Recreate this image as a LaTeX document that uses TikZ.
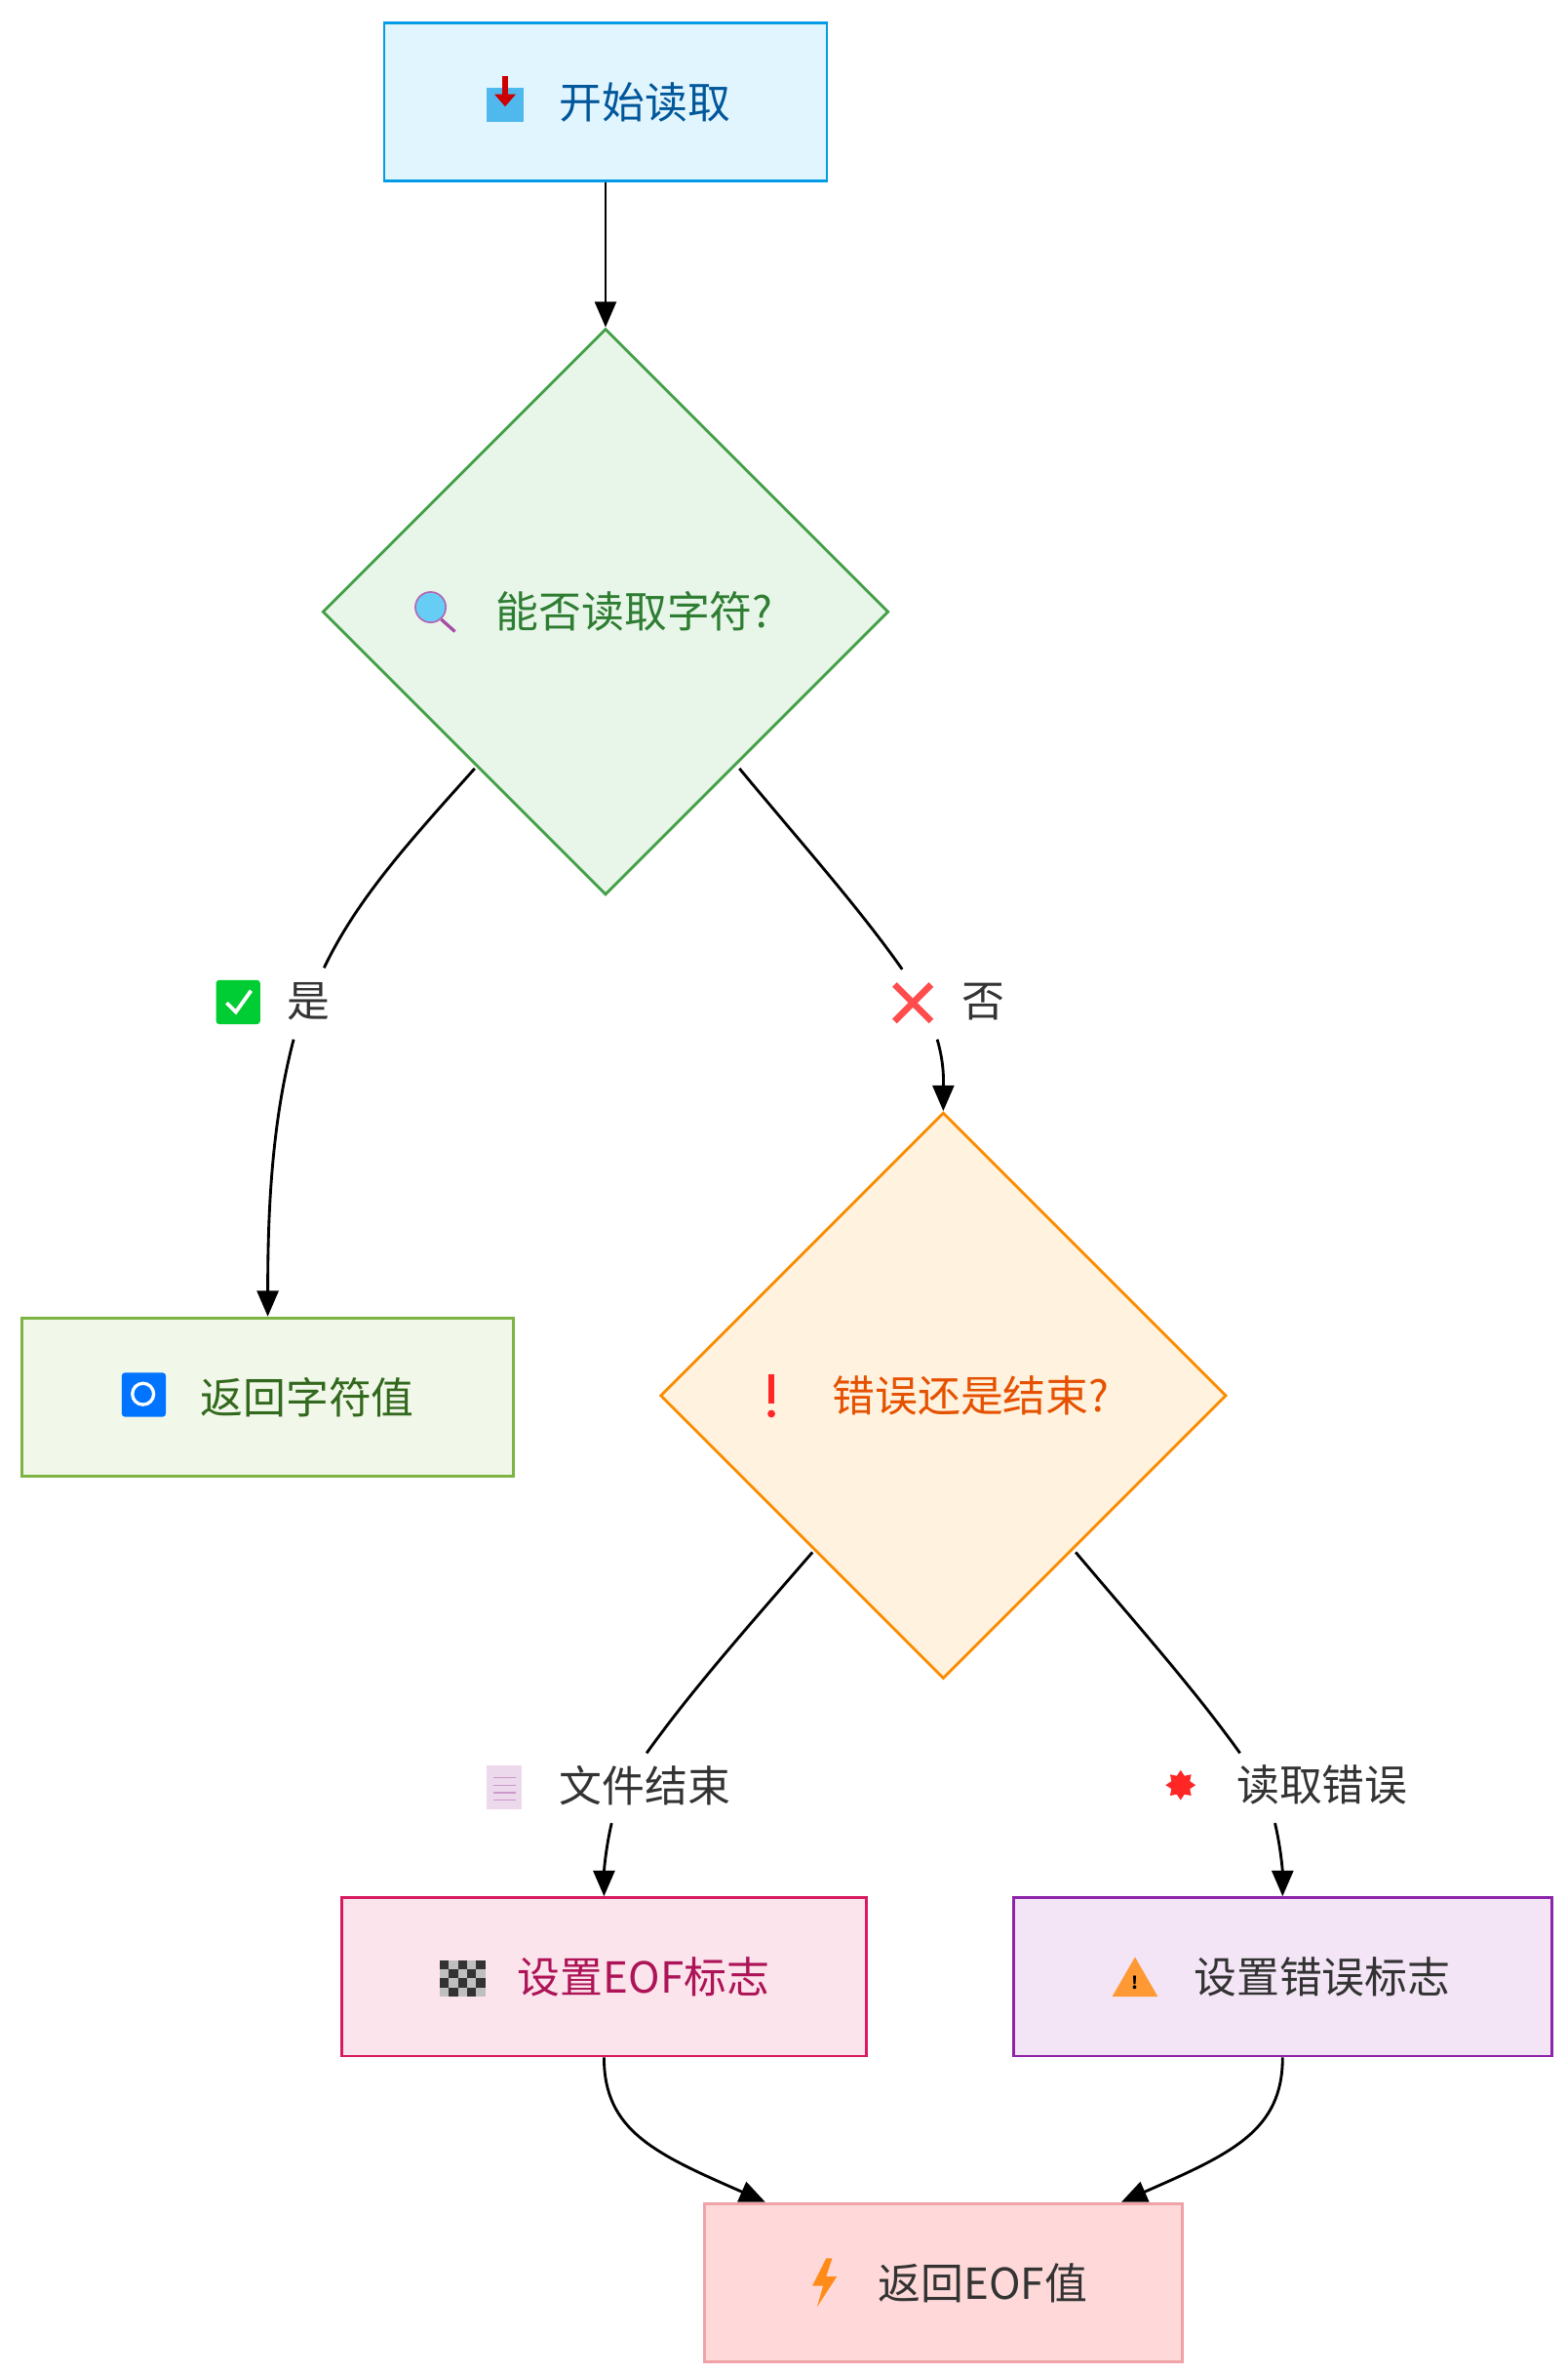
\documentclass[tikz,border=0pt]{standalone}
\usepackage{fontspec}
\setmainfont{Noto Sans CJK SC}
\usetikzlibrary{shapes.geometric,arrows.meta}
\definecolor{c1f}{HTML}{E1F5FE}\definecolor{c1d}{HTML}{039BE5}\definecolor{c1t}{HTML}{01579B}
\definecolor{c2f}{HTML}{E8F5E9}\definecolor{c2d}{HTML}{43A047}\definecolor{c2t}{HTML}{2E7D32}
\definecolor{c3f}{HTML}{F1F8E9}\definecolor{c3d}{HTML}{7CB342}\definecolor{c3t}{HTML}{33691E}
\definecolor{c4f}{HTML}{FFF3E0}\definecolor{c4d}{HTML}{FB8C00}\definecolor{c4t}{HTML}{E65100}
\definecolor{c5f}{HTML}{FCE4EC}\definecolor{c5d}{HTML}{D81B60}\definecolor{c5t}{HTML}{AD1457}
\definecolor{c6f}{HTML}{F3E5F5}\definecolor{c6d}{HTML}{8E24AA}\definecolor{c6t}{HTML}{333333}
\definecolor{c7f}{HTML}{FFD9D9}\definecolor{c7d}{HTML}{EFA3A8}\definecolor{c7t}{HTML}{333333}
\begin{document}
\begin{tikzpicture}[x=0.05cm,y=-0.05cm,
  txt/.style={font=\fontsize{40}{48}\selectfont},
  box/.style={draw,line width=2.6pt,minimum width=#1*0.05cm,minimum height=104*0.05cm,inner sep=0pt},
  dia/.style={draw,line width=2.6pt,diamond,minimum width=372*0.05cm,minimum height=372*0.05cm,inner sep=0pt},
  lab/.style={txt,text=black!80,inner sep=0pt},
  arr/.style={line width=2.6pt,-{Triangle[length=24pt,width=20pt]}},
  ln/.style={line width=2.6pt}]
\useasboundingbox (0,0) rectangle (1030,1560);
\fill[white] (0,0) rectangle (1030,1560);
% nodes
\node[box=291,fill=c1f,draw=c1d] (start) at (398,67) {};
\node[txt,text=c1t] at (424,67) {开始读取};
\node[dia,fill=c2f,draw=c2d] (d1) at (398,402) {};
\node[txt,text=c2t] at (417,402) {能否读取字符?};
\node[box=323,fill=c3f,draw=c3d] (ret) at (176,918) {};
\node[txt,text=c3t] at (202,918) {返回字符值};
\node[dia,fill=c4f,draw=c4d] (d2) at (620,917) {};
\node[txt,text=c4t] at (638,917) {错误还是结束?};
\node[box=345,fill=c5f,draw=c5d] (eof) at (397,1299) {};
\node[txt,text=c5t] at (423,1299) {设置EOF标志};
\node[box=354,fill=c6f,draw=c6d] (err) at (843,1299) {};
\node[txt,text=c6t] at (869,1299) {设置错误标志};
\node[box=314,fill=c7f,draw=c7d] (reof) at (620,1500) {};
\node[txt,text=c7t] at (646,1500) {返回EOF值};
% icons
\fill[c1d!70] (320,58) rectangle (344,80); \fill[red!80!black] (330,50) rectangle (334,64);
\fill[red!80!black] (325,62)--(339,62)--(332,70)--cycle;
\draw[line width=3pt,violet!70] (290,407)--(299,415); \fill[cyan!60] (283,399) circle (10); \draw[line width=1.5pt,violet!60] (283,399) circle (10);
\fill[blue!55!cyan,rounded corners=3] (80,902) rectangle (109,931); \draw[white,line width=3pt] (94,916) circle (7);
\fill[red!85] (505,903) rectangle (509,922); \fill[red!85] (507,929) circle (2.5);
\foreach \i in {0,1,2,3,4}\foreach \j in {0,1,2,3}{\pgfmathparse{mod(\i+\j,2)==0?"black!80":"black!25"}\fill[\pgfmathresult] (289+\i*6,1288+\j*6) rectangle ++(6,6);}
\fill[orange!80] (746,1286)--(761,1312)--(731,1312)--cycle; \node[font=\bfseries\fontsize{16}{16}\selectfont] at (746,1303) {!};
\fill[orange!90] (543,1484)--(534,1502)--(541,1502)--(537,1516)--(550,1496)--(543,1496)--(547,1484)--cycle;
% labels
\fill[green!60!teal,rounded corners=3] (142,644) rectangle (171,673); \draw[white,line width=3.5pt] (149,659)--(155,665)--(165,651);
\node[lab] (lyes) at (203,658) {是};
\draw[line width=6pt,red!60!pink] (588,647)--(612,671) (612,647)--(588,671);
\node[lab] (lno) at (646,658) {否};
\fill[violet!15] (320,1160) rectangle (343,1189);
\foreach \k in {1168,1173,1178,1183}\draw[violet!40,line width=1pt] (324,\k)--(339,\k);
\node[lab] (leof) at (424,1173) {文件结束};
\node[star,star points=8,fill=red!80!pink,minimum size=28,inner sep=0pt] at (776,1173) {};
\node[lab] (lerr) at (869,1173) {读取错误};
% edges
\draw[arr] (start.south) -- (d1.north);
\draw[ln] (312,505) .. controls (270,552) and (235,590) .. (213,636);
\draw[arr] (193,683) .. controls (178,740) and (176,800) .. (ret.north);
\draw[ln] (486,505) .. controls (525,552) and (565,597) .. (593,637);
\draw[arr] (616,683) .. controls (621,700) and (620,712) .. (d2.north);
\draw[ln] (534,1020) .. controls (495,1065) and (455,1110) .. (425,1152);
\draw[arr] (402,1198) .. controls (398,1215) and (397,1230) .. (eof.north);
\draw[ln] (707,1020) .. controls (745,1065) and (785,1110) .. (815,1152);
\draw[arr] (838,1198) .. controls (842,1215) and (843,1230) .. (err.north);
\draw[arr] (eof.south) .. controls (397,1400) and (430,1415) .. (503,1447);
\draw[arr] (err.south) .. controls (843,1400) and (810,1415) .. (737,1447);
\end{tikzpicture}
\end{document}
